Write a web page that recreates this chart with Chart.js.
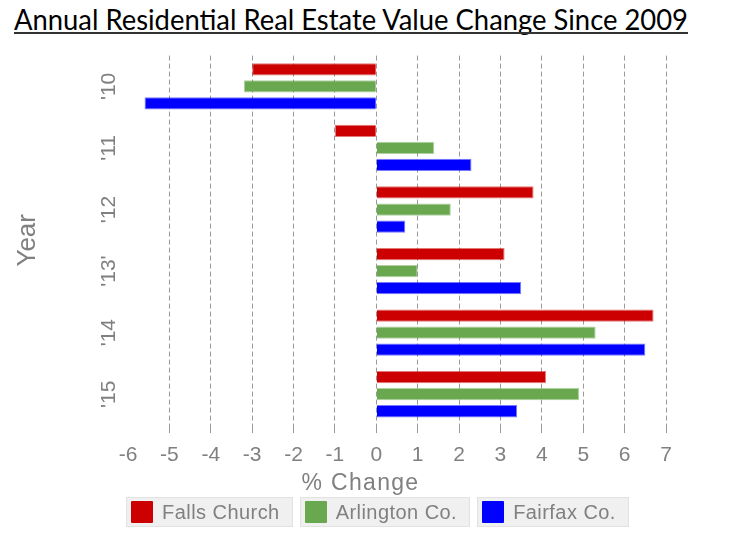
<!DOCTYPE html>
<html>
<head>
<meta charset="utf-8">
<script src="https://cdn.jsdelivr.net/npm/chart.js@4"></script>
<style>
  body { margin: 0; background: #fff; width: 731px; height: 540px; position: relative; overflow: hidden; }
  #titulo {
    position: absolute; left: 14px; top: 2px;
    font-family: "Lato", sans-serif; font-size: 28px; color: #000;
    white-space: nowrap; transform-origin: left top;
  }
  #linha { position: absolute; left: 14px; top: 32px; width: 674px; height: 2px; background: #333; }
  #grafico { position: absolute; left: 0; top: 40px; width: 731px; height: 462px; }
  #eixoX {
    position: absolute; left: 0; top: 471px; width: 721px; text-align: center;
    font-family: "Liberation Sans", Arial, sans-serif; font-size: 23px; line-height: 1;
    color: #808080; letter-spacing: 1.3px;
  }
  #legenda { position: absolute; left: 126px; top: 497px; display: flex; gap: 7px; }
  .item {
    height: 30px; border: 1px solid #e2e2e2; background: #f0f0f0;
    display: flex; align-items: center; box-sizing: border-box;
    padding: 0 12px 0 4px;
    font-family: "Liberation Sans", Arial, sans-serif; font-size: 20px; color: #808080;
    letter-spacing: 0.45px;
  }
  .cor { width: 22px; height: 22px; margin-right: 9px; box-sizing: border-box; border-radius: 1px; }
</style>
</head>
<body>
<div id="titulo">Annual Residential Real Estate Value Change Since 2009</div>
<div id="linha"></div>
<div id="grafico"><canvas id="c"></canvas></div>
<div id="eixoX">% Change</div>
<div id="legenda"></div>
<script>
// dados
const anos = ["'10", "'11", "'12", "'13'", "'14", "'15"];
const fallsChurch = [-3.0, -1.0, 3.8, 3.1, 6.7, 4.1];
const arlington = [-3.2, 1.4, 1.8, 1.0, 5.3, 4.9];
const fairfax = [-5.6, 2.3, 0.7, 3.5, 6.5, 3.4];
const nomes = ["Falls Church", "Arlington Co.", "Fairfax Co."];
const cores = ["#cc0000", "#6aa84f", "#0000ff"];

// ajusta largura do título
const titulo = document.getElementById("titulo");
const w = titulo.getBoundingClientRect().width;
titulo.style.transform = "scaleX(" + (674 / w) + ")";

const cinza = "#808080";
const fonte = "'Liberation Sans', Arial, sans-serif";

const series = [fallsChurch, arlington, fairfax];
const datasets = series.map((valores, i) => ({
  label: nomes[i],
  data: valores,
  backgroundColor: cores[i],
  borderColor: cores[i] + "88",
  borderWidth: 1,
  categoryPercentage: 0.83,
  barPercentage: 0.72,
}));

new Chart(document.getElementById("c"), {
  type: "bar",
  data: { labels: anos, datasets: datasets },
  options: {
    indexAxis: "y",
    responsive: true,
    maintainAspectRatio: false,
    animation: false,
    layout: { padding: { top: 14, right: 65, left: 0, bottom: 0 } },
    plugins: { legend: { display: false }, tooltip: { enabled: false } },
    scales: {
      x: {
        min: -6,
        max: 7,
        ticks: { stepSize: 1, color: cinza, font: { family: fonte, size: 21 }, padding: 10 },
        grid: {
          color: (ctx) => (ctx.tick && ctx.tick.value === -6 ? "rgba(0,0,0,0)" : "#9a9a9a"),
          tickLength: 8,
          lineWidth: 1,
        },
        border: { display: false, dash: [5, 3] },
        afterFit: (escala) => { escala.height = 77; },
      },
      y: {
        grid: { display: false, drawTicks: false },
        border: { display: false },
        ticks: {
          color: cinza,
          font: { family: fonte, size: 21 },
          minRotation: 90,
          maxRotation: 90,
          crossAlign: "center",
          padding: 3,
        },
        title: {
          display: true,
          text: "Year",
          color: cinza,
          font: { family: fonte, size: 26 },
          padding: { top: 12, bottom: 0 },
        },
        afterFit: (escala) => { escala.width = 128; },
      },
    },
  },
});

// legenda em html
const legenda = document.getElementById("legenda");
nomes.forEach((nome, i) => {
  const item = document.createElement("div");
  item.className = "item";
  const cor = document.createElement("span");
  cor.className = "cor";
  cor.style.background = cores[i];
  cor.style.border = "1px solid " + cores[i] + "99";
  item.appendChild(cor);
  item.appendChild(document.createTextNode(nome));
  legenda.appendChild(item);
});
</script>
</body>
</html>
